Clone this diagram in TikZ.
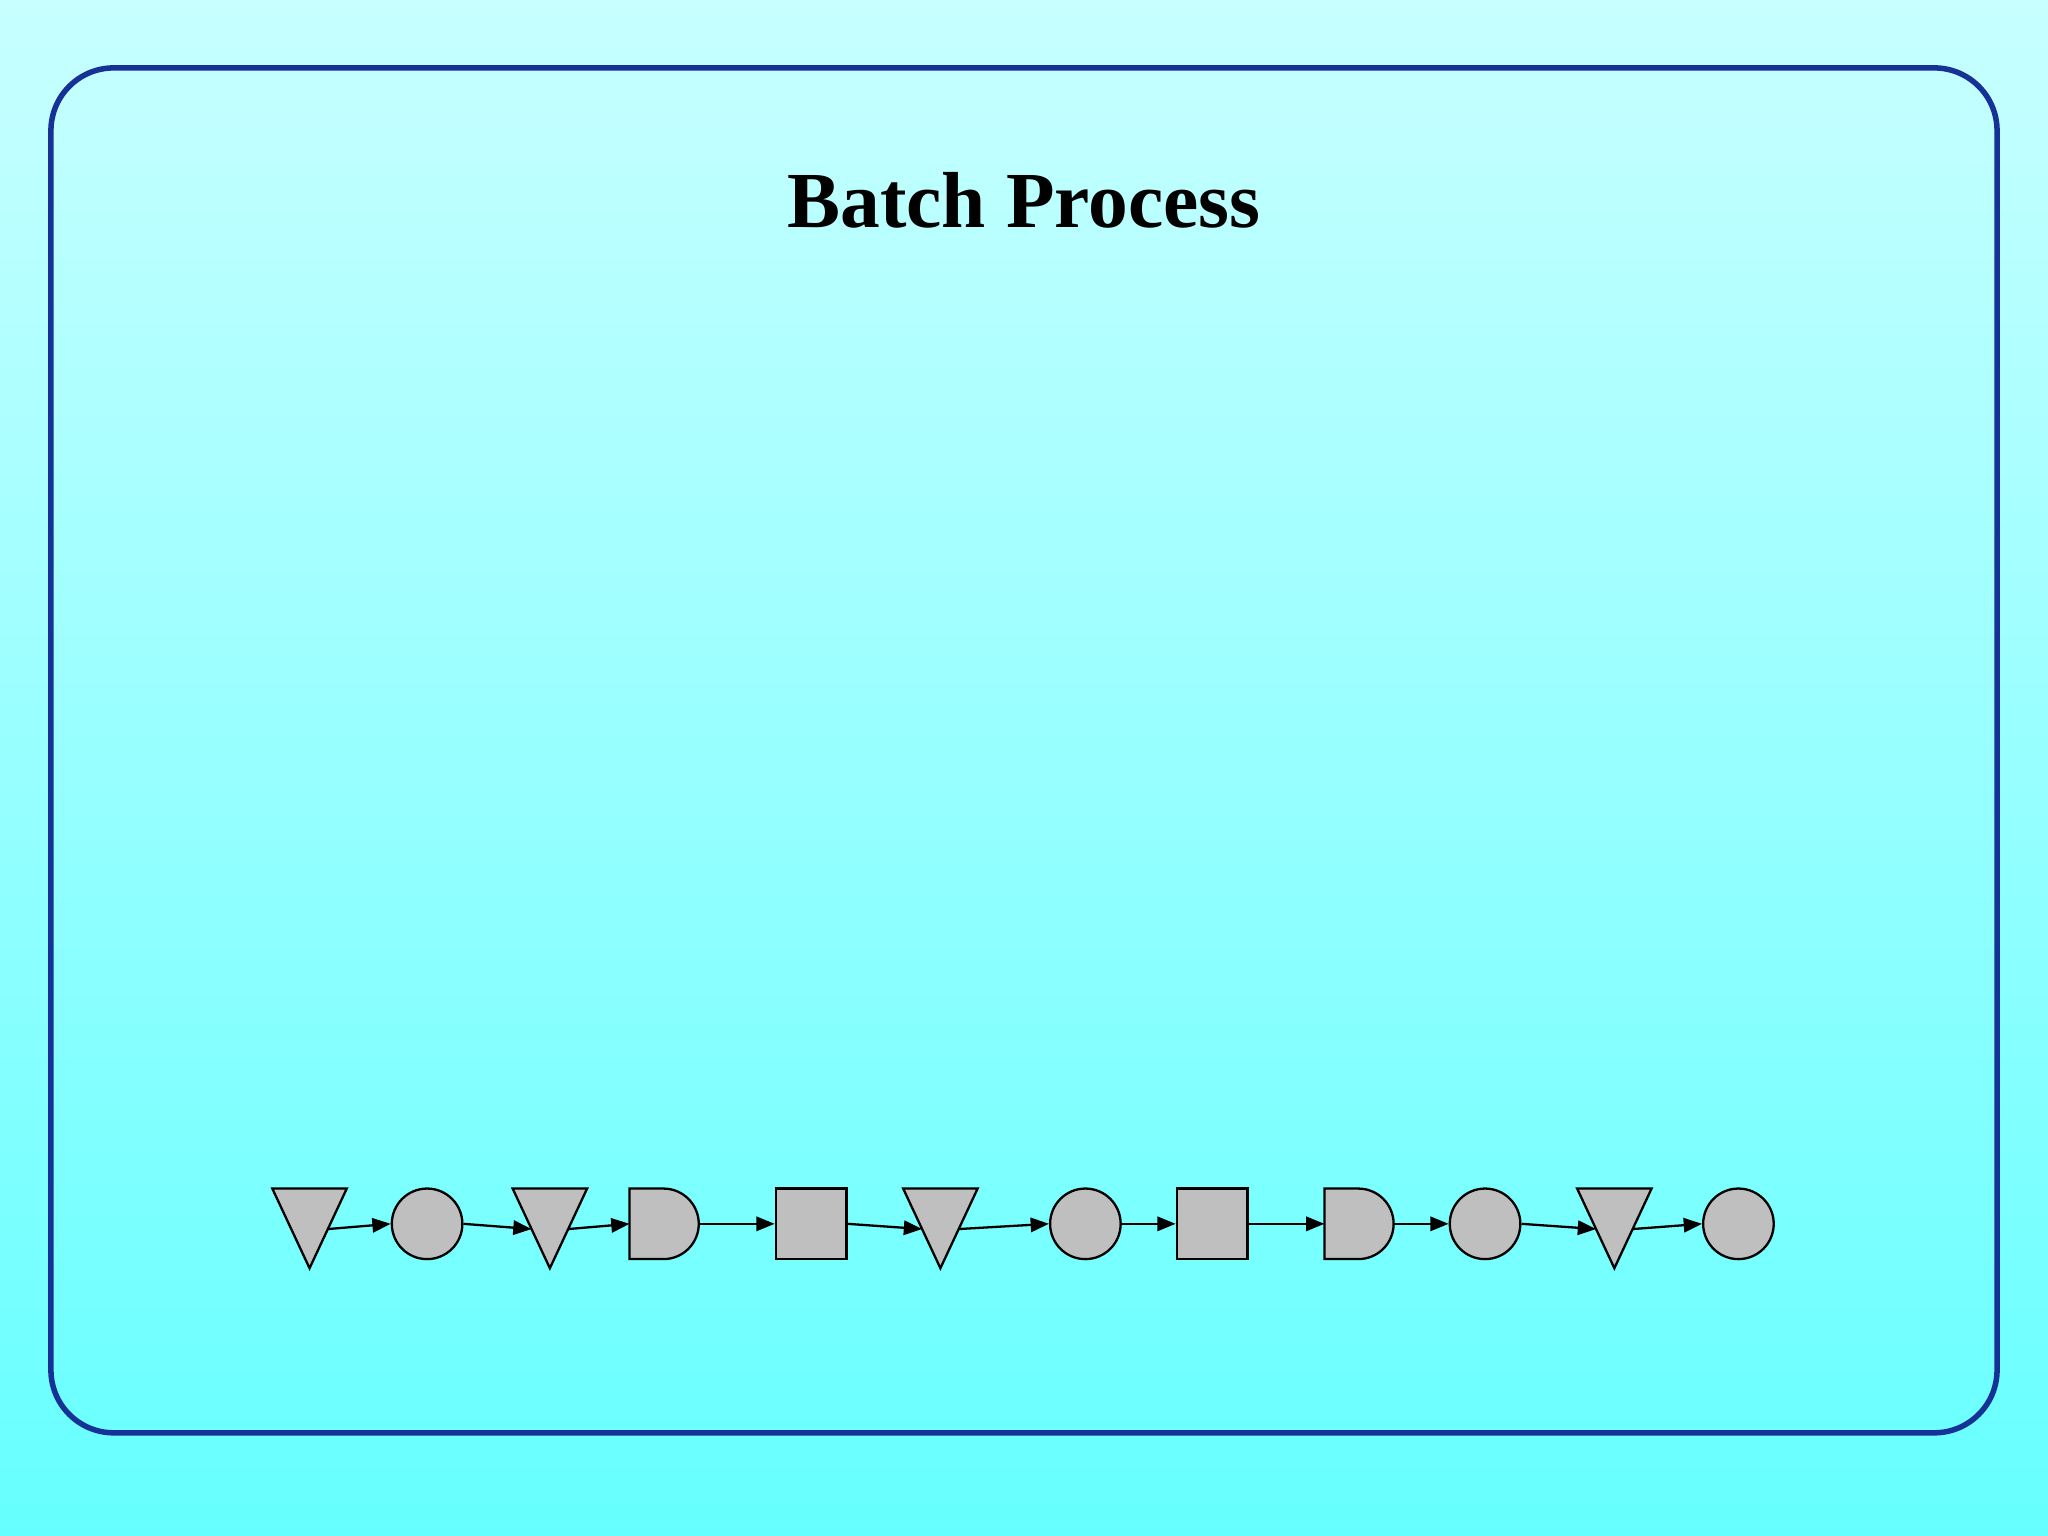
\documentclass[tikz,border=0pt]{standalone}
\usepackage{fontspec}
\setmainfont{Liberation Serif}
\usetikzlibrary{arrows.meta}
\definecolor{bgTop}{RGB}{200,255,255}
\definecolor{bgBottom}{RGB}{102,255,255}
\definecolor{frameBlue}{RGB}{22,50,150}
\definecolor{shapeGray}{RGB}{191,191,191}
\newcommand\trinode[2]{%
  \draw[shp] (#2-28.5,910) -- (#2+28.5,910) -- (#2,971) -- cycle;
  \coordinate (#1l) at (#2-14,941);
  \coordinate (#1r) at (#2+14,941);}
\newcommand\delaynode[2]{%
  \draw[shp] (#2-26,910) -- (#2,910) arc[start angle=270,end angle=450,radius=27] -- (#2-26,964) -- cycle;
  \coordinate (#1l) at (#2-26,937);
  \coordinate (#1r) at (#2+27,937);}
\begin{document}
\begin{tikzpicture}[x=0.01cm,y=-0.01cm,
  shp/.style={draw=black,fill=shapeGray,line width=0.5pt},
  op node/.style={shp,circle,minimum size=0.54cm,inner sep=0pt},
  insp node/.style={shp,rectangle,minimum size=0.54cm,inner sep=0pt},
  flow/.style={-{Triangle[length=0.14cm,width=0.11cm]},line width=0.5pt}]
  % background and frame
  \shade[top color=bgTop,bottom color=bgBottom] (0,0) rectangle (1568,1176);
  \useasboundingbox (0,0) rectangle (1568,1176);
  \draw[frameBlue,line width=1.2pt,rounded corners=0.48cm] (39,52) rectangle (1529,1097);
  \node[font=\bfseries\fontsize{17.3}{20}\selectfont] (title) at (784,153) {Batch Process};
% The process chart
  \trinode{t1}{237}
  \node[op node] (c1) at (327,937) {};
  \trinode{t2}{421}
  \delaynode{d1}{508}
  \node[insp node] (s1) at (621,937) {};
  \trinode{t3}{720}
  \node[op node] (c2) at (831,937) {};
  \node[insp node] (s2) at (928,937) {};
  \delaynode{d2}{1040}
  \node[op node] (c3) at (1137,937) {};
  \trinode{t4}{1236}
  \node[op node] (c4) at (1331,937) {};
% The arrows
  \draw[flow] (t1r) -- (c1.west);
  \draw[flow] (c1.east) -- (t2l);
  \draw[flow] (t2r) -- (d1l);
  \draw[flow] (d1r) -- (s1.west);
  \draw[flow] (s1.east) -- (t3l);
  \draw[flow] (t3r) -- (c2.west);
  \draw[flow] (c2.east) -- (s2.west);
  \draw[flow] (s2.east) -- (d2l);
  \draw[flow] (d2r) -- (c3.west);
  \draw[flow] (c3.east) -- (t4l);
  \draw[flow] (t4r) -- (c4.west);
\end{tikzpicture}
\end{document}
